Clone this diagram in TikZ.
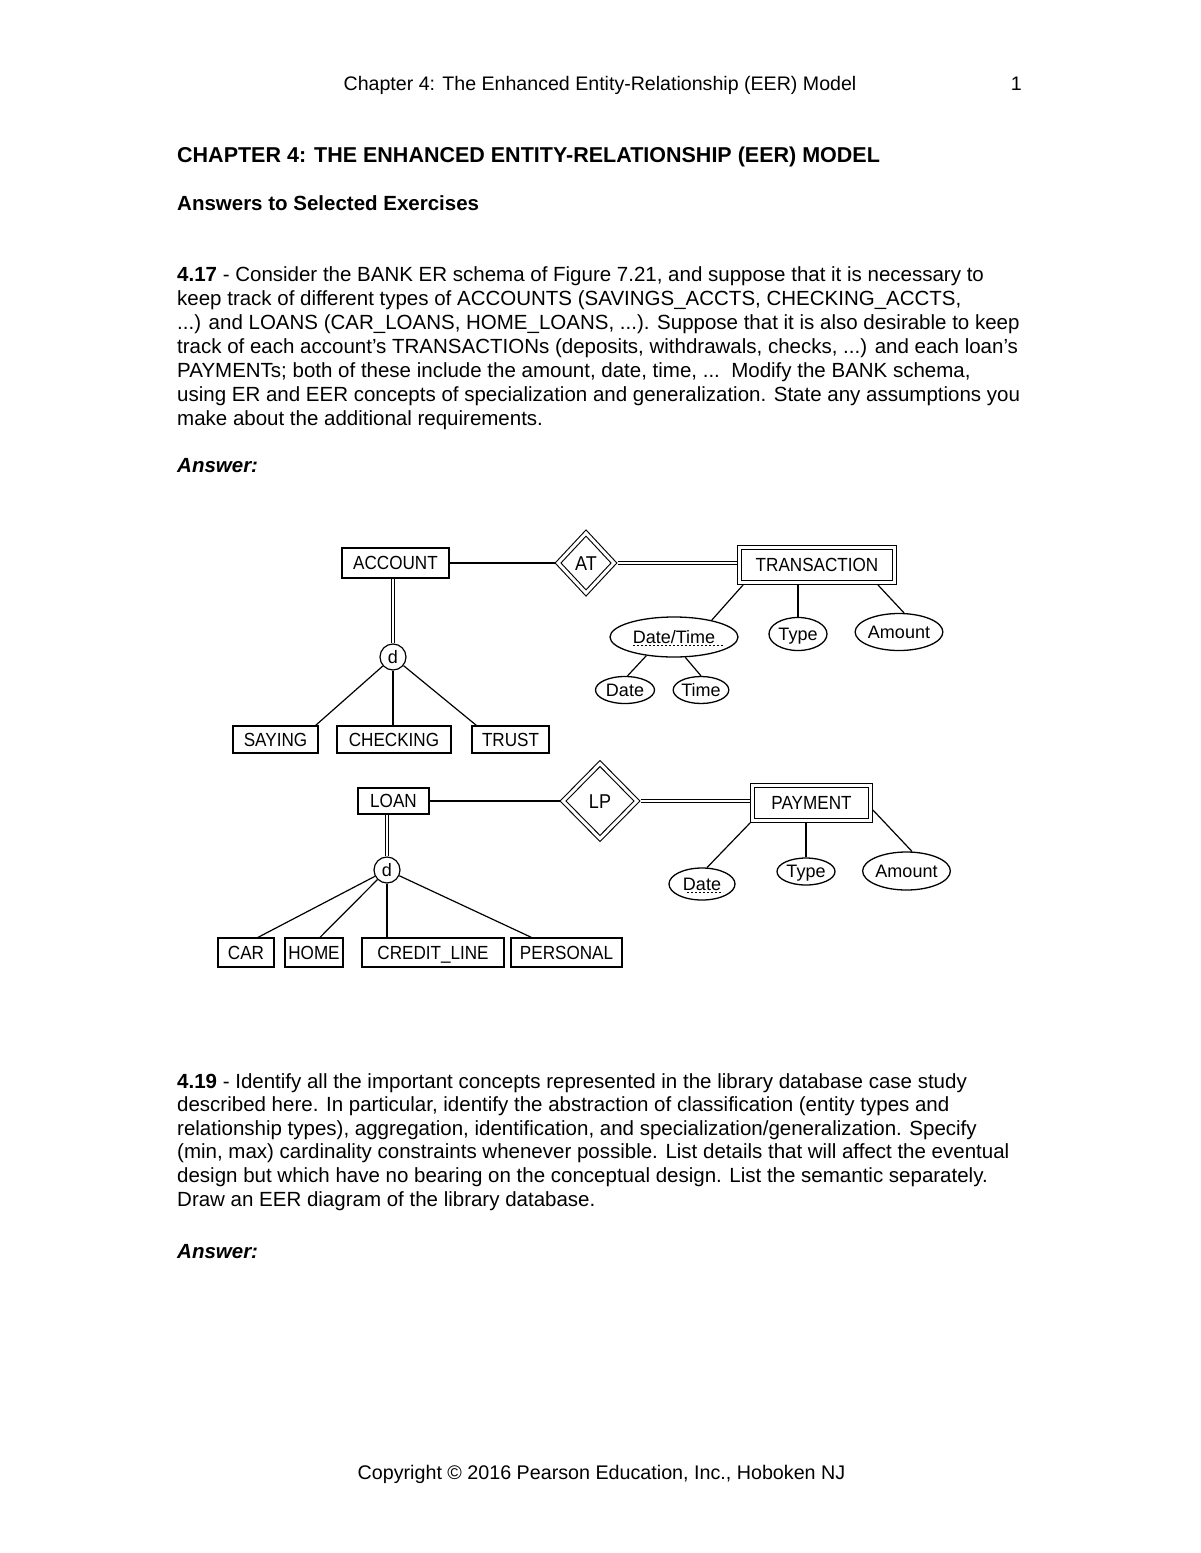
\documentclass[tikz,border=0pt]{standalone}
\usepackage{fontspec}
\setmainfont{Liberation Sans}
\newfontfamily\erfont[FakeStretch=0.9]{Liberation Sans}
\usetikzlibrary{shapes.geometric,calc}
\begin{document}
\begin{tikzpicture}[x=1pt,y=-1pt,
  body/.style={anchor=base west, inner sep=0pt, font=\fontsize{20.5}{24}\selectfont},
  ent/.style={draw, line width=1.3pt, inner sep=0pt, text height=13.6pt, text depth=0pt, font=\erfont\fontsize{19}{19}\selectfont},
  went/.style={ent, double, double distance=2.6pt, line width=1.1pt, outer sep=2.4pt},
  relw/.style={diamond, draw, double, double distance=3pt, line width=1.1pt, inner sep=0pt, outer sep=2.5pt, text height=14.3pt, text depth=0pt, font=\erfont\fontsize{20}{20}\selectfont},
  attr/.style={ellipse, draw, line width=1.3pt, inner sep=0pt, text height=12.9pt, text depth=0pt, font=\fontsize{18}{18}\selectfont},
  circ/.style={circle, draw, line width=1.2pt, inner sep=0pt, minimum size=26pt, text height=12.9pt, text depth=0pt, font=\fontsize{18}{18}\selectfont},
  conn/.style={line width=1.2pt},
  dconn/.style={double, double distance=2.2pt, line width=1.1pt},
  keyline/.style={line width=1pt, dash pattern=on 2pt off 2pt}]
\useasboundingbox (0,0) rectangle (1200,1553);
\fill[white] (0,0) rectangle (1200,1553);

% header
\node[anchor=base, inner sep=0pt, font=\fontsize{19.6}{24}\selectfont] (hd) at (600,90) {Chapter 4: The Enhanced Entity-Relationship (EER) Model};
\node[anchor=base east, inner sep=0pt, font=\fontsize{19.6}{24}\selectfont] (pg) at (1022,90) {1};

\node[anchor=base west, inner sep=0pt, font=\bfseries\fontsize{21.5}{24}\selectfont] (tt) at (177,162) {CHAPTER 4: THE ENHANCED ENTITY-RELATIONSHIP (EER) MODEL};
\node[anchor=base west, inner sep=0pt, font=\bfseries\fontsize{20.5}{24}\selectfont] (as) at (177,210) {Answers to Selected Exercises};

\node[body] (a1) at (177,281) {\textbf{4.17} - Consider the BANK ER schema of Figure 7.21, and suppose that it is necessary to};
\node[body] (a2) at (177,305) {keep track of different types of ACCOUNTS (SAVINGS\_ACCTS, CHECKING\_ACCTS,};
\node[body] (a3) at (177,329) {...) and LOANS (CAR\_LOANS, HOME\_LOANS, ...). Suppose that it is also desirable to keep};
\node[body] (a4) at (177,353) {track of each account's TRANSACTIONs (deposits, withdrawals, checks, ...) and each loan's};
\node[body] (a5) at (177,377) {PAYMENTs; both of these include the amount, date, time, ...\ \ Modify the BANK schema,};
\node[body] (a6) at (177,401) {using ER and EER concepts of specialization and generalization. State any assumptions you};
\node[body] (a7) at (177,425) {make about the additional requirements.};
\node[body, font=\bfseries\itshape\fontsize{20.5}{24}\selectfont] (an1) at (177,472) {Answer:};

\node[body] (b1) at (177,1088) {\textbf{4.19} - Identify all the important concepts represented in the library database case study};
\node[body] (b2) at (177,1111.6) {described here. In particular, identify the abstraction of classification (entity types and};
\node[body] (b3) at (177,1135.2) {relationship types), aggregation, identification, and specialization/generalization. Specify};
\node[body] (b4) at (177,1158.8) {(min, max) cardinality constraints whenever possible. List details that will affect the eventual};
\node[body] (b5) at (177,1182.4) {design but which have no bearing on the conceptual design. List the semantic separately.};
\node[body] (b6) at (177,1206) {Draw an EER diagram of the library database.};
\node[body, font=\bfseries\itshape\fontsize{20.5}{24}\selectfont] (an2) at (177,1258) {Answer:};

\node[anchor=base, inner sep=0pt, font=\fontsize{19.7}{24}\selectfont] (ft) at (601.5,1479) {Copyright © 2016 Pearson Education, Inc., Hoboken NJ};

% ---------- diagram: accounts ----------
\node[ent, minimum width=107pt, minimum height=30pt] (ac) at (395.5,563) {ACCOUNT};
\node[relw, minimum width=58pt, minimum height=62pt] (at) at (586,563) {AT};
\node[went, minimum width=155pt, minimum height=35pt] (tr) at (817,565) {TRANSACTION};
\draw[conn] (ac.east) -- (at.west);
\draw[dconn] (at.east) -- (at.east -| tr.west);

\node[attr, minimum width=128pt, minimum height=40pt] (dt) at (674,637) {Date/Time};
\node[attr, minimum width=58pt, minimum height=33pt] (ty) at (798,634) {Type};
\node[attr, minimum width=84pt, minimum height=37pt] (am) at (899,632) {Amount};
\node[attr, minimum width=59pt, minimum height=27pt] (da) at (625,690) {Date};
\node[attr, minimum width=53pt, minimum height=27pt] (tm) at (701,690) {Time};
\draw[conn] ([xshift=6pt]tr.south west) -- (dt.24);
\draw[conn] (ty.north) -- (ty.north |- tr.south);
\draw[conn] ([xshift=-19pt]tr.south east) -- (am.75);
\draw[conn] (dt.214) -- (da.80);
\draw[conn] (dt.-61) -- (tm.north);
\draw[keyline] ([xshift=-41pt,yshift=-8pt]dt.center) -- ([xshift=49pt,yshift=-8pt]dt.center);

\node[circ] (dA) at (393,657) {d};
\draw[dconn] (dA.north) -- (dA.north |- ac.south);
\node[ent, minimum width=85pt, minimum height=27pt] (sv) at (275.5,739.5) {SAYING};
\node[ent, minimum width=114pt, minimum height=27pt] (ch) at (394,739.5) {CHECKING};
\node[ent, minimum width=77pt, minimum height=27pt] (tu) at (510.5,739.5) {TRUST};
\draw[conn] (dA) -- ([xshift=-3pt]sv.north east);
\draw[conn] (dA.south) -- (dA.south |- ch.north);
\draw[conn] (dA) -- ([xshift=5pt]tu.north west);

% ---------- diagram: loans ----------
\node[ent, minimum width=71pt, minimum height=26pt] (lo) at (393.5,801) {LOAN};
\node[relw, minimum width=76pt, minimum height=77pt] (lp) at (600,801) {LP};
\node[went, minimum width=118pt, minimum height=35pt] (pm) at (811.5,803) {PAYMENT};
\draw[conn] (lo.east) -- (lp.west);
\draw[dconn] (lp.east) -- (lp.east -| pm.west);

\node[circ] (dB) at (387,870) {d};
\draw[dconn] (dB.north) -- (dB.north |- lo.south);
\node[ent, minimum width=56pt, minimum height=29pt] (car) at (246,952.5) {CAR};
\node[ent, minimum width=58pt, minimum height=29pt] (ho) at (314,952.5) {HOME};
\node[ent, minimum width=142pt, minimum height=29pt] (cl) at (433,952.5) {CREDIT\_LINE};
\node[ent, minimum width=111pt, minimum height=29pt] (pe) at (566.5,952.5) {PERSONAL};
\draw[conn] (dB) -- ([xshift=12pt]car.north);
\draw[conn] (dB) -- ([xshift=6pt]ho.north);
\draw[conn] (dB.south) -- (dB.south |- cl.north);
\draw[conn] (dB) -- ([xshift=21pt]pe.north west);

\node[attr, minimum width=66pt, minimum height=32pt] (dp) at (702,884) {Date};
\node[attr, minimum width=58pt, minimum height=27pt] (tp) at (806,871.5) {Type};
\node[attr, minimum width=83pt, minimum height=38pt] (ap) at (906.5,871) {Amount};
\draw[conn] (pm.south west) -- (dp.73);
\draw[conn] (tp.north) -- (tp.north |- pm.south);
\draw[conn] ([yshift=-7pt]pm.east) -- (ap.74);
\draw[keyline] ([xshift=-15pt,yshift=-8pt]dp.center) -- ([xshift=21pt,yshift=-8pt]dp.center);
\end{tikzpicture}
\end{document}
